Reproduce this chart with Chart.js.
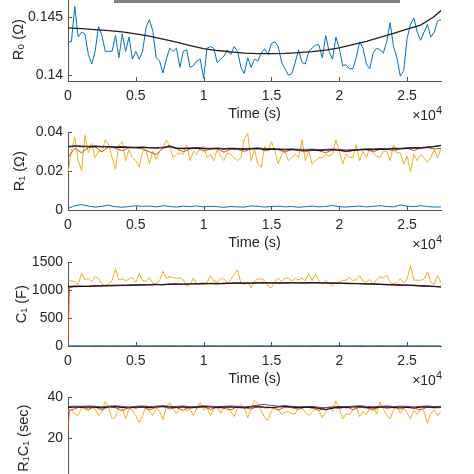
<!DOCTYPE html>
<html><head><meta charset="utf-8">
<script src="https://cdn.jsdelivr.net/npm/chart.js@4.4.1/dist/chart.umd.min.js"></script>
<style>
html,body{margin:0;padding:0;background:#fff;width:474px;height:474px;overflow:hidden;}
#wrap{position:relative;width:474px;height:474px;overflow:hidden;background:#fff;}
canvas{position:absolute;left:0;}
#bar{position:absolute;left:114px;top:0;width:286px;height:3px;background:#808080;}
</style></head><body><div id="wrap">
<div id="bar"></div>
<canvas id="c1"></canvas><canvas id="c2"></canvas><canvas id="c3"></canvas><canvas id="c4"></canvas>
</div>
<script>
// ---------- time axes ----------
const T250 = [0,250,500,750,1000,1250,1500,1750,2000,2250,
2500,2750,3000,3250,3500,3750,4000,4250,4500,4750,
5000,5250,5500,5750,6000,6250,6500,6750,7000,7250,
7500,7750,8000,8250,8500,8750,9000,9250,9500,9750,
10000,10250,10500,10750,11000,11250,11500,11750,12000,12250,
12500,12750,13000,13250,13500,13750,14000,14250,14500,14750,
15000,15250,15500,15750,16000,16250,16500,16750,17000,17250,
17500,17750,18000,18250,18500,18750,19000,19250,19500,19750,
20000,20250,20500,20750,21000,21250,21500,21750,22000,22250,
22500,22750,23000,23250,23500,23750,24000,24250,24500,24750,
25000,25250,25500,25750,26000,26250,26500,26750,27000,27250,27500];
const T500 = [0,500,1000,1500,2000,2500,3000,3500,4000,4500,
5000,5500,6000,6500,7000,7500,8000,8500,9000,9500,
10000,10500,11000,11500,12000,12500,13000,13500,14000,14500,
15000,15500,16000,16500,17000,17500,18000,18500,19000,19500,
20000,20500,21000,21500,22000,22500,23000,23500,24000,24500,
25000,25500,26000,26500,27000,27500];
const T1000 = [0,1000,2000,3000,4000,5000,6000,7000,8000,9000,10000,11000,12000,13000,14000,
15000,16000,17000,18000,19000,20000,21000,22000,23000,24000,25000,26000,27000,27500];
const T_RED = [0,100,500,1000,1500,2000,2500,3000,3500,4000,4500,
5000,5500,6000,6500,7000,7500,8000,8500,9000,9500,
10000,10500,11000,11500,12000,12500,13000,13500,14000,14500,
15000,15500,16000,16500,17000,17500,18000,18500,19000,19500,
20000,20500,21000,21500,22000,22500,23000,23500,24000,24500,
25000,25500,26000,26500,27000,27500];

const X_TICKS = [0,5000,10000,15000,20000,25000];
const X_TICK_LABELS = ['0','0.5','1','1.5','2','2.5'];

// ---------- subplot 1 : R0 ----------
const R0_EST = [0.14287,0.14287,0.1459,0.14328,0.14369,0.14355,0.14177,0.14096,0.14205,0.14418,
0.14341,0.14205,0.14205,0.14205,0.14341,0.1415,0.14355,0.14205,0.14328,0.14137,
0.14205,0.14137,0.14205,0.1441,0.14478,0.14382,0.1415,0.14123,0.14019,0.14137,
0.14232,0.14205,0.14232,0.14068,0.14205,0.14218,0.14068,0.14082,0.14123,0.14137,
0.13973,0.14232,0.14246,0.14232,0.14109,0.14137,0.14164,0.14218,0.14177,0.14246,
0.14205,0.14068,0.14014,0.1415,0.14068,0.14137,0.14123,0.14191,0.14227,0.14177,
0.14273,0.14287,0.14246,0.14109,0.14055,0.14,0.14014,0.14109,0.14218,0.14109,
0.14096,0.14205,0.14232,0.1426,0.1426,0.1415,0.14341,0.14205,0.14137,0.14328,
0.14232,0.14082,0.1409,0.14055,0.14055,0.1415,0.14287,0.14232,0.14096,0.14055,
0.14191,0.14232,0.14218,0.14191,0.14287,0.14451,0.14246,0.1415,0.13992,0.14041,
0.14314,0.14437,0.14492,0.14369,0.143,0.14369,0.14437,0.14328,0.14369,0.14464,0.14478];
const R0_TRUE = [0.14407,0.14400,0.14392,0.14383,0.14372,0.14355,0.14335,0.14310,0.14285,0.14255,
0.14228,0.14212,0.14200,0.14190,0.14186,0.14186,0.14188,0.14194,0.14203,0.14215,
0.14235,0.14262,0.14290,0.14325,0.14360,0.14395,0.14430,0.14505,0.14555];
const R0_TICKS = [0.14,0.145];
const R0_TICK_LABELS = ['0.14','0.145'];

// ---------- subplot 2 : R1 ----------
const R1_YEL = [0.019,0.0303,0.0377,0.0254,0.0204,0.0385,0.0295,0.0344,0.027,0.0303,
0.0303,0.0361,0.0336,0.027,0.021,0.0336,0.0352,0.0254,0.0311,0.027,
0.0254,0.022,0.0303,0.0311,0.0237,0.0303,0.0262,0.0303,0.0319,0.0361,
0.0328,0.027,0.0287,0.0295,0.0287,0.0336,0.0254,0.0303,0.0287,0.0319,
0.0328,0.027,0.0287,0.0254,0.0311,0.0278,0.0254,0.0295,0.0287,0.027,
0.0254,0.027,0.0369,0.0395,0.0254,0.0311,0.0237,0.022,0.0328,0.0303,
0.0352,0.0303,0.0237,0.0287,0.0303,0.0254,0.027,0.0287,0.027,0.0361,
0.0254,0.0303,0.0237,0.0254,0.027,0.027,0.0287,0.0278,0.0287,0.0361,
0.0303,0.0237,0.0287,0.027,0.027,0.0336,0.0254,0.0303,0.027,0.0319,
0.0295,0.0278,0.027,0.0303,0.0303,0.0254,0.0336,0.0295,0.0295,0.0237,
0.0278,0.0196,0.0287,0.0254,0.0287,0.027,0.0245,0.027,0.0311,0.027,0.0319];
const R1_RED = [0.0270,0.0318,0.0295,0.0322,0.0326,0.0300,0.0325,0.0318,0.0305,0.0322,
0.0320,0.0315,0.0300,0.0285,0.0318,0.0325,0.0316,0.0300,0.0315,0.0318,
0.0305,0.0314,0.0316,0.0298,0.0315,0.0312,0.0302,0.0315,0.0320,0.0305,
0.0313,0.0311,0.0298,0.0312,0.0307,0.0300,0.0309,0.0305,0.0295,0.0310,
0.0307,0.0300,0.0306,0.0311,0.0312,0.0300,0.0313,0.0315,0.0305,0.0316,
0.0318,0.0306,0.0320,0.0322,0.0315,0.0318];
const R1_PUR = [0.0322,0.0331,0.0330,0.0329,0.0330,0.0328,0.0327,0.0326,0.0327,0.0325,
0.0324,0.0325,0.0322,0.0322,0.0324,0.0326,0.0320,0.0319,0.0321,0.0322,
0.0319,0.0318,0.0320,0.0317,0.0319,0.0318,0.0317,0.0318,0.0320,0.0316,
0.0317,0.0315,0.0314,0.0315,0.0313,0.0312,0.0314,0.0311,0.0313,0.0314,
0.0312,0.0310,0.0311,0.0313,0.0315,0.0315,0.0317,0.0316,0.0319,0.0318,
0.0321,0.0322,0.0322,0.0325,0.0328,0.0332];
const R1_BLK = [0.0328,0.0330,0.0327,0.0326,0.0328,0.0325,0.0326,0.0323,0.0324,0.0322,
0.0321,0.0323,0.0320,0.0319,0.0321,0.0330,0.0318,0.0316,0.0317,0.0319,
0.0316,0.0315,0.0317,0.0314,0.0316,0.0315,0.0313,0.0315,0.0316,0.0313,
0.0314,0.0312,0.0310,0.0312,0.0309,0.0308,0.0310,0.0307,0.0309,0.0311,
0.0308,0.0304,0.0307,0.0310,0.0312,0.0311,0.0314,0.0313,0.0316,0.0315,
0.0318,0.0320,0.0319,0.0323,0.0327,0.0333];
const R1_BLUE = [0.0008,0.0022,0.0028,0.0020,0.0015,0.0019,0.0025,0.0017,0.0014,0.0018,
0.0022,0.0019,0.0020,0.0016,0.0022,0.0018,0.0015,0.0020,0.0017,0.0021,
0.0016,0.0019,0.0017,0.0014,0.0018,0.0016,0.0015,0.0021,0.0019,0.0015,
0.0018,0.0020,0.0016,0.0018,0.0014,0.0017,0.0020,0.0016,0.0019,0.0023,
0.0017,0.0015,0.0018,0.0020,0.0016,0.0019,0.0022,0.0018,0.0016,0.0026,
0.0020,0.0017,0.0022,0.0018,0.0015,0.0016];
const R1_TICKS = [0,0.02,0.04];
const R1_TICK_LABELS = ['0','0.02','0.04'];

// ---------- subplot 3 : C1 ----------
const C1_YEL = [1180,1171,1148,1102,1304,1189,1218,1160,1247,1206,
1114,1091,1114,1171,1390,1183,1206,1171,1200,1229,
1143,1304,1171,1160,1229,1125,1114,1171,1340,1218,
1247,1229,1218,1218,1189,1073,1102,1218,1102,1131,
1131,1131,1264,1171,1148,1206,1206,1131,1195,1287,
1362,1131,1102,1148,1044,1171,1200,1206,1171,1073,
1044,1160,1218,1160,1218,1218,1160,1218,1183,1218,
1171,1298,1171,1287,1171,1114,1177,1125,1079,1137,
1148,1171,1183,1229,1177,1189,1264,1166,1148,1195,
1108,1189,1247,1218,1275,1137,1120,1137,1206,1137,
1200,1440,1183,1183,1177,1200,1333,1143,1102,1264,1131];
const C1_RED = [0,1050,1072,1065,1078,1085,1076,1090,1094,1082,1095,1100,
1092,1104,1108,1098,1112,1115,1105,1118,1122,1110,
1124,1128,1115,1126,1132,1120,1128,1136,1125,1130,
1138,1127,1134,1140,1128,1135,1133,1122,1130,1127,
1116,1122,1118,1108,1112,1104,1100,1096,1088,1092,
1080,1076,1070,1064,1058];
const C1_PUR = [1070,1078,1075,1072,1080,1083,1086,1088,1091,1090,
1096,1099,1102,1105,1104,1110,1113,1112,1116,1118,
1121,1124,1120,1125,1128,1131,1133,1130,1135,1138,
1134,1132,1135,1138,1134,1137,1140,1136,1134,1131,
1130,1127,1124,1121,1118,1114,1110,1106,1102,1098,
1094,1090,1084,1078,1072,1066];
const C1_BLK = [1062,1066,1070,1068,1074,1078,1080,1084,1088,1086,
1092,1095,1098,1102,1100,1106,1110,1108,1112,1115,
1118,1120,1116,1122,1125,1128,1130,1126,1132,1135,
1130,1128,1132,1135,1130,1134,1137,1132,1130,1128,
1126,1124,1120,1118,1114,1110,1106,1102,1098,1094,
1090,1086,1080,1074,1068,1062];
const C1_BLUE = [1,4,3,2,5,3,2,4,3,2,6,3,2,4,3,5,2,3,4,2,3,5,3,2,4,3,2,3,5,2,
4,3,2,3,4,2,5,3,2,3,4,2,3,5,3,2,4,3,2,6,3,2,4,3,2,3];
const C1_TICKS = [0,500,1000,1500];
const C1_TICK_LABELS = ['0','500','1000','1500'];

// ---------- subplot 4 : R1C1 ----------
const RC_YEL = [33.4,34.2,31.9,31.1,35.0,34.2,33.4,35.3,34.2,31.1,
32.7,38.0,34.7,29.5,30.3,35.3,34.7,29.5,34.2,33.8,
31.1,27.5,31.1,35.8,33.1,31.1,34.7,33.4,29.1,35.3,
37.5,34.2,31.9,35.0,35.8,33.4,34.2,31.1,35.0,37.5,
33.8,35.0,31.1,34.2,35.8,32.2,35.0,35.5,33.1,30.6,
34.7,36.6,35.0,30.0,34.2,38.5,36.9,33.4,30.0,28.8,
33.4,35.3,34.2,31.6,32.7,33.1,31.9,31.9,35.3,35.0,
32.7,31.1,32.7,34.7,33.4,30.0,32.7,35.3,33.1,38.3,
34.7,29.5,31.9,31.6,33.8,35.6,30.6,33.1,31.6,34.7,
35.6,31.9,37.8,34.2,31.1,29.5,33.8,35.5,32.2,34.7,
32.5,29.5,33.8,31.6,34.7,33.1,27.2,32.2,33.8,31.1,33.1];
const RC_RED = [24,33.5,34.5,35.6,34.2,35.3,33.8,35.5,34.9,33.6,35.2,34.7,
35.4,33.9,35.1,35.6,34.4,35.0,33.7,35.3,34.8,35.5,
34.1,35.2,34.6,33.9,35.4,35.0,34.3,35.6,34.8,35.1,
33.8,35.3,34.9,34.2,35.4,34.7,33.6,35.0,35.3,34.5,
35.5,34.0,35.2,34.8,33.9,35.4,34.6,35.1,34.3,35.3,
34.7,33.9,35.2,34.8,35.0];
const RC_PUR = [35.5,35.7,35.6,35.8,35.6,35.4,35.7,35.9,35.6,35.3,
35.6,35.8,35.5,35.7,35.9,35.6,35.5,35.8,35.4,35.6,
35.9,35.7,35.5,35.6,35.8,35.6,35.4,35.7,36.2,36.6,
36.0,35.7,35.9,35.6,35.4,35.5,35.6,35.2,34.9,35.3,
35.6,35.5,35.7,35.9,35.6,35.4,35.6,35.8,35.5,35.7,
35.6,35.3,35.6,35.8,35.5,35.6];
const RC_BLK = [35.0,35.3,35.1,35.4,35.2,34.9,35.3,35.5,35.1,34.8,
35.2,35.4,35.0,35.3,35.6,35.2,35.1,35.4,34.9,35.2,
35.5,35.3,35.0,35.2,35.4,35.1,34.9,35.3,35.5,35.2,
35.0,35.3,35.6,35.2,35.0,35.1,35.2,34.6,34.0,34.7,
35.2,35.0,35.3,35.5,35.1,34.9,35.2,35.4,35.0,35.3,
35.1,34.8,35.2,35.4,35.1,35.3];
const RC_TICKS = [20,40];
const RC_TICK_LABELS = ['20','40'];

// ---------- styling ----------
const FONT = '"Liberation Sans", Arial, Helvetica, sans-serif';
const TXT = '#262626';
const AX = '#555555';
const C_BLUE = '#0072BD', C_RED = '#D95319', C_YEL = '#EDB120', C_PUR = '#7E2F8E', C_BLK = '#1a1a1a';
const PLOT_LEFT = 68, PLOT_RIGHT = 441, PAD_TOP = 10, XAXIS_H = 45;

function pts(ts, vs){ return ts.map((t,i)=>({x:t, y:vs[i]})); }
function ds(data, color, w){ return {data, borderColor:color, borderWidth:w||1, pointRadius:0, fill:false, tension:0}; }

const matlabDecor = {
  id:'matlabDecor',
  afterDraw(chart){
    const {ctx, chartArea:a, scales:{x,y}} = chart;
    ctx.save();
    ctx.strokeStyle = AX; ctx.lineWidth = 1; ctx.beginPath();
    x.ticks.forEach(t=>{ const px = Math.round(x.getPixelForValue(t.value))+0.5; ctx.moveTo(px, a.bottom); ctx.lineTo(px, a.bottom-4); });
    y.ticks.forEach(t=>{ const py = Math.round(y.getPixelForValue(t.value))+0.5; ctx.moveTo(a.left, py); ctx.lineTo(a.left+4, py); });
    ctx.stroke();
    ctx.fillStyle = TXT; ctx.textAlign = 'right'; ctx.textBaseline = 'alphabetic';
    ctx.font = '11px ' + FONT;
    ctx.fillText('4', a.right + 1, a.bottom + 33);
    const w4 = ctx.measureText('4').width;
    ctx.font = '14px ' + FONT;
    ctx.fillText('\u00d710', a.right + 1 - w4, a.bottom + 39);
    ctx.restore();
  }
};

function makeChart(id, g){
  const cv = document.getElementById(id);
  const h = PAD_TOP + (g.plotBottom - g.plotTop) + XAXIS_H;
  cv.width = 474; cv.height = h;
  cv.style.width = '474px'; cv.style.height = h + 'px';
  cv.style.top = (g.plotTop - PAD_TOP) + 'px';
  return new Chart(cv, {
    type:'line',
    data:{datasets:g.datasets},
    plugins:[matlabDecor],
    options:{
      responsive:false, animation:false, events:[],
      layout:{padding:{left:0, right:474-PLOT_RIGHT, top:PAD_TOP, bottom:0}},
      plugins:{legend:{display:false}, tooltip:{enabled:false}},
      scales:{
        x:{type:'linear', min:0, max:27500,
          grid:{display:false, drawTicks:false},
          border:{display:true, color:AX, width:1},
          afterBuildTicks:s=>{ s.ticks = X_TICKS.map(v=>({value:v})); },
          afterFit:s=>{ s.height = XAXIS_H; },
          ticks:{padding:7, color:TXT, font:{family:FONT, size:14}, maxRotation:0, autoSkip:false,
            callback:v=>X_TICK_LABELS[X_TICKS.indexOf(v)]},
          title:{display:true, text:'Time (s)', color:TXT, font:{family:FONT, size:14.5}, padding:{top:0, bottom:3.3}}
        },
        y:{type:'linear', min:g.yMin, max:g.yMax,
          grid:{display:false, drawTicks:false},
          border:{display:true, color:AX, width:1},
          afterBuildTicks:s=>{ s.ticks = g.yTicks.map(v=>({value:v})); },
          afterFit:s=>{ s.width = PLOT_LEFT; },
          ticks:{padding:5, color:TXT, font:{family:FONT, size:14}, autoSkip:false,
            callback:v=>g.yLabels[g.yTicks.indexOf(v)]},
          title:{display:true, text:g.yTitle, color:TXT, font:{family:FONT, size:14.5}, padding:{top:g.titlePad, bottom:0}}
        }
      }
    }
  });
}

makeChart('c1', {plotTop:-5, plotBottom:81, yMin:0.1395, yMax:0.1466,
  yTicks:R0_TICKS, yLabels:R0_TICK_LABELS, yTitle:'R\u2080 (\u03a9)', titlePad:10,
  datasets:[ ds(pts(T1000, R0_TRUE), '#2a1c1c', 1.3), ds(pts(T250, R0_EST), C_BLUE, 1) ]});

makeChart('c2', {plotTop:129, plotBottom:210, yMin:0, yMax:0.04,
  yTicks:R1_TICKS, yLabels:R1_TICK_LABELS, yTitle:'R\u2081 (\u03a9)', titlePad:11.3,
  datasets:[ ds(pts(T500, R1_BLK), C_BLK, 1.2), ds(pts(T500, R1_PUR), C_PUR, 1),
             ds(pts(T500, R1_RED), C_RED, 1), ds(pts(T250, R1_YEL), C_YEL, 1),
             ds(pts(T500, R1_BLUE), C_BLUE, 1) ]});

makeChart('c3', {plotTop:259, plotBottom:346, yMin:0, yMax:1500,
  yTicks:C1_TICKS, yLabels:C1_TICK_LABELS, yTitle:'C\u2081 (F)', titlePad:13.5,
  datasets:[ ds(pts(T500, C1_BLK), C_BLK, 1.2), ds(pts(T500, C1_PUR), C_PUR, 1),
             ds(pts(T_RED, C1_RED), C_RED, 1), ds(pts(T250, C1_YEL), C_YEL, 1),
             ds(pts(T500, C1_BLUE), C_BLUE, 1) ]});

makeChart('c4', {plotTop:394, plotBottom:479, yMin:0, yMax:40,
  yTicks:RC_TICKS, yLabels:RC_TICK_LABELS, yTitle:'R\u2081C\u2081 (sec)', titlePad:15,
  datasets:[ ds(pts(T500, RC_BLK), C_BLK, 1.2), ds(pts(T500, RC_PUR), C_PUR, 1),
             ds(pts(T_RED, RC_RED), C_RED, 1), ds(pts(T250, RC_YEL), C_YEL, 1) ]});
</script>
</body></html>
